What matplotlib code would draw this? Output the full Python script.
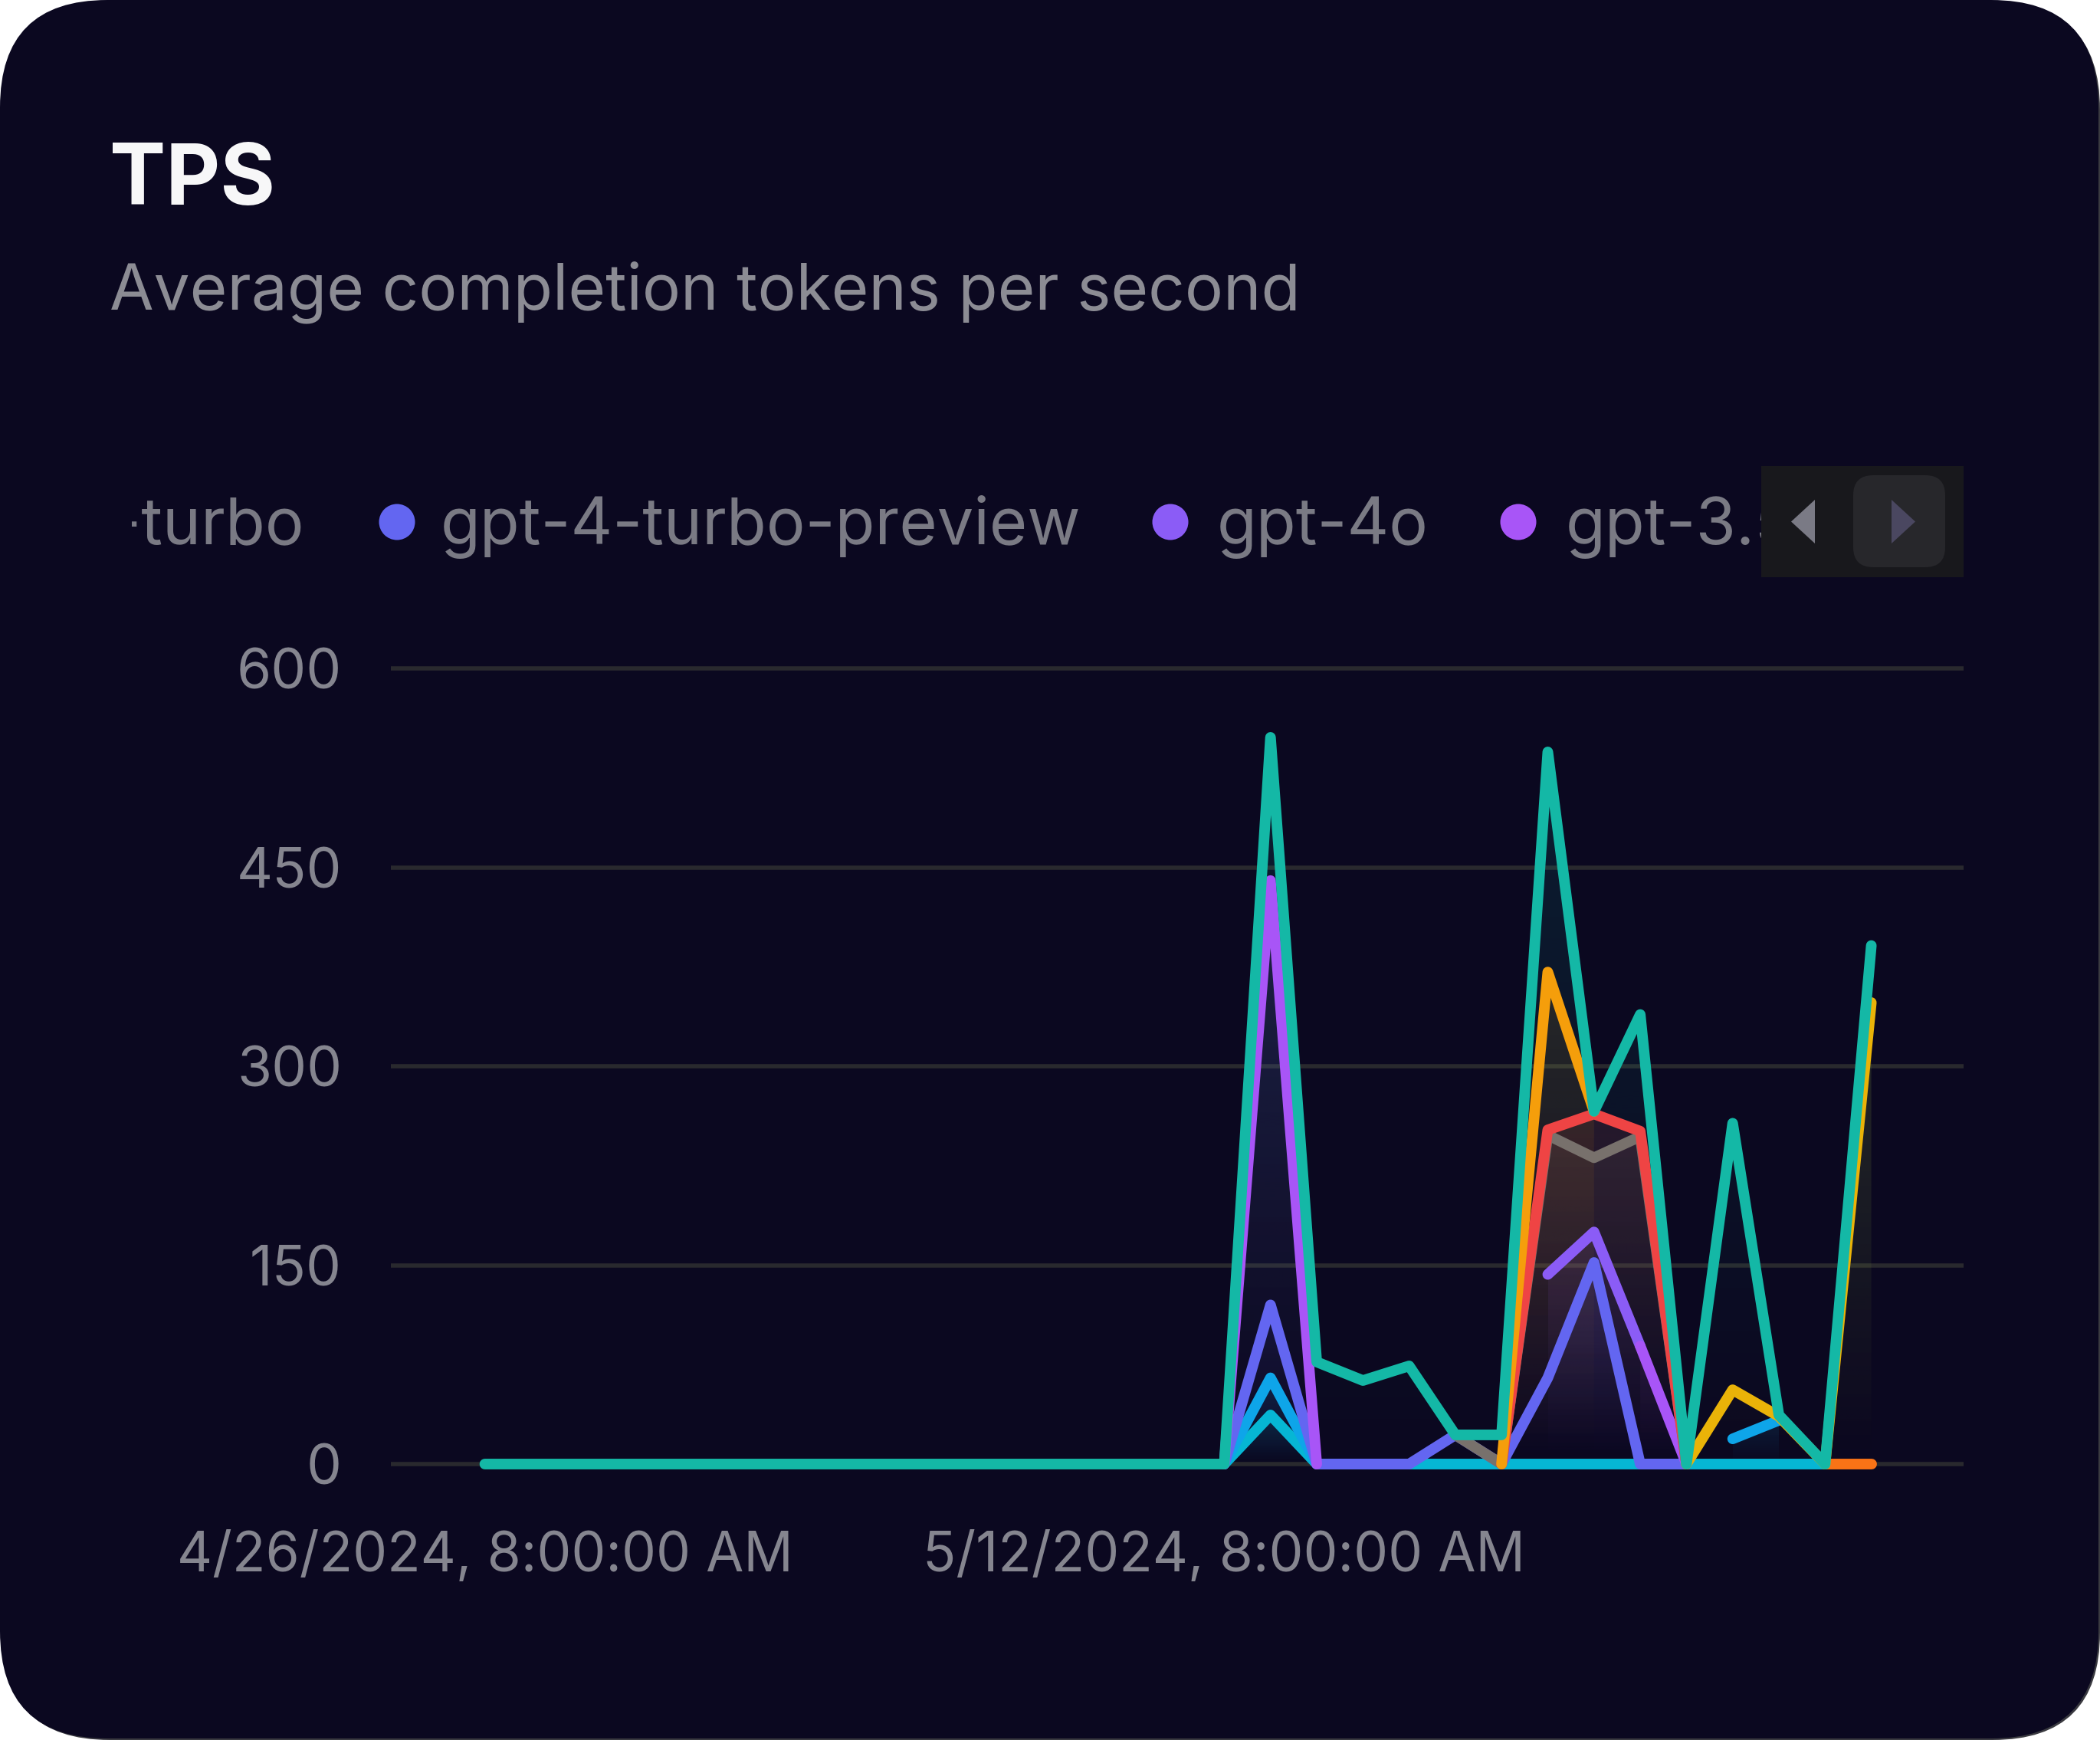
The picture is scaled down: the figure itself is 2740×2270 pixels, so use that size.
import numpy as np
import pandas as pd
import matplotlib
matplotlib.use("Agg")
import matplotlib.pyplot as plt
from matplotlib.patches import FancyBboxPatch, Polygon, Circle, Rectangle
from matplotlib.colors import to_rgb

plt.rcParams['font.family'] = ['Inter', 'DejaVu Sans']

# ---------------- data ----------------
dates = pd.date_range("2024-04-26 08:00", periods=31, freq="D")
date_labels = [f"{d.month}/{d.day}/{d.year}, 8:00:00 AM" for d in dates]
xtick_idx = [0, 16]
yticks = [0, 150, 300, 450, 600]

N = None
teal_vals = [0]*17 + [548, 77, 63, 74, 22, 22, 537, 266, 339, 0, 257, 37, 0, 391]
cyan_vals = [N]*16 + [0, 37, 0, 0, 0, 0, 0, 0, 0, 0, 0, 0, 0, 0, N]
sky_vals = [N]*16 + [0, 65, 0] + [N]*8 + [19, 33] + [N]*2
indigo_vals = [N]*16 + [0, 120, 0, 0, 0, 22, 0, 65, 152, 0, 0] + [N]*4
violet_vals = [N]*23 + [143, 175, 89] + [N]*5
purple_vals = [N]*16 + [0, 440, 0] + [N]*6 + [89, 0] + [N]*4
stone_vals = [N]*21 + [22, 0, 248, 231, 247, 0] + [N]*4
red_vals = [N]*22 + [0, 252, 264, 251, 0] + [N]*4
amber_vals = [N]*22 + [0, 371, 266] + [N]*6
yellow_vals = [N]*26 + [0, 56, 36, 0, 348]
orange_vals = [N]*29 + [0, 0]

# drawing order bottom -> top
series = [
    ("orange", orange_vals, "#f97316"),
    ("cyan", cyan_vals, "#06b6d4"),
    ("sky", sky_vals, "#0ea5e9"),
    ("gpt-4-turbo-preview", indigo_vals, "#6366f1"),
    ("gpt-4o", violet_vals, "#8b5cf6"),
    ("gpt-3.5-turbo", purple_vals, "#a855f7"),
    ("stone", stone_vals, "#78716c"),
    ("red", red_vals, "#ef4444"),
    ("amber", amber_vals, "#f59e0b"),
    ("yellow", yellow_vals, "#eab308"),
    ("teal", teal_vals, "#14b8a6"),
]

legend_labels = ["gpt-4-turbo", "gpt-4-turbo-preview", "gpt-4o", "gpt-3.5-turbo"]
legend_colors = [None, "#6366f1", "#8b5cf6", "#a855f7"]

BG = "#0b0820"
W, H = 2740, 2270

fig = plt.figure(figsize=(W/100, H/100), dpi=100, facecolor="white")

# card background
bg = fig.add_axes([0, 0, 1, 1], zorder=0)
bg.set_xlim(0, W); bg.set_ylim(H, 0); bg.axis("off")
bg.add_patch(FancyBboxPatch((3, 3), W-3, H-3, boxstyle="round,pad=0,rounding_size=140",
                            fc="#3a3a40", ec="none"))
bg.add_patch(FancyBboxPatch((0, 0), W-2, H-2, boxstyle="round,pad=0,rounding_size=140",
                            fc=BG, ec="none"))
bg.text(143, 267, "TPS", fontsize=79, fontweight="bold", color="#f7f7f8", va="baseline", ha="left")
bg.text(143, 403, "Average completion tokens per second", fontsize=60.2, color="#8c8c94",
        va="baseline", ha="left")

# chart axes
x0px, x1px, ytop, ybot = 510, 2562, 840, 1950
ax = fig.add_axes([x0px/W, 1-ybot/H, (x1px-x0px)/W, (ybot-ytop)/H], zorder=2)
ax.set_facecolor("none")
xpx0, xstep = 632.6, 60.3
xlim = ((x0px-xpx0)/xstep, (x1px-xpx0)/xstep)
ypx0, yscale = 1910, 1.73
ylim = (-(ybot-ypx0)/yscale, 600 + (872-ytop)/yscale)

x = np.arange(len(dates))

def grad_fill(ax, xs, ys, color, z):
    ys = np.array([np.nan if v is None else v for v in ys], float)
    valid = ~np.isnan(ys)
    idx = np.where(valid)[0]
    if len(idx) == 0:
        return
    groups = np.split(idx, np.where(np.diff(idx) != 1)[0] + 1)
    rgb = to_rgb(color)
    for g in groups:
        if len(g) < 2:
            continue
        gx, gy = xs[g], ys[g]
        top = gy.max()
        if top <= 0:
            continue
        verts = [(gx[0], 0)] + list(zip(gx, gy)) + [(gx[-1], 0)]
        poly = Polygon(verts, closed=True, fc="none", ec="none")
        ax.add_patch(poly)
        grad = np.zeros((200, 1, 4))
        grad[..., 0], grad[..., 1], grad[..., 2] = rgb
        grad[:, 0, 3] = np.linspace(0.0, 0.13, 200)
        im = ax.imshow(grad, extent=[gx[0], gx[-1], 0, top], origin="lower",
                       aspect="auto", zorder=z, interpolation="bilinear")
        im.set_clip_path(poly)

for k, (name, vals, col) in enumerate(series):
    grad_fill(ax, x, vals, col, 1 + k*0.01)

for k, (name, vals, col) in enumerate(series):
    yv = np.array([np.nan if v is None else v for v in vals], float)
    ax.plot(x, yv, color=col, lw=10, solid_capstyle="round", solid_joinstyle="round",
            zorder=3 + k*0.01, label=name)

ax.set_xlim(*xlim)
ax.set_ylim(*ylim)
ax.set_aspect("auto")
for s in ax.spines.values():
    s.set_visible(False)
ax.set_yticks(yticks)
ax.set_yticklabels([str(v) for v in yticks])
ax.set_xticks(xtick_idx)
ax.set_xticklabels([date_labels[i] for i in xtick_idx])
ax.tick_params(axis="y", length=0, pad=46, labelsize=52.5, labelcolor="#85858f")
ax.tick_params(axis="x", length=0, pad=34, labelsize=51.4, labelcolor="#85858f")
ax.yaxis.grid(True, color="#29292e", lw=4)
ax.xaxis.grid(False)
ax.set_axisbelow(True)

# legend strip (scrolled, clipped)
lg = fig.add_axes([172/W, 1-770/H, (2562-172)/W, 180/H], zorder=4)
lg.set_xlim(172, 2562); lg.set_ylim(770, 590); lg.axis("off")
LEG_C = "#7a7a84"
lg.text(397, 710, legend_labels[0], fontsize=61, color=LEG_C, ha="right", va="baseline", clip_on=True)
dot_x = [518, 1527, 1981]
txt_x = [575, 1588, 2043]
for dx, tx, lab, col in zip(dot_x, txt_x, legend_labels[1:], legend_colors[1:]):
    lg.add_patch(Circle((dx, 681), 23.5, fc=col, ec="none", zorder=2))
    lg.text(tx, 710, lab, fontsize=61, color=LEG_C, ha="left", va="baseline", clip_on=True, zorder=2)
# scroll buttons
lg.add_patch(Rectangle((2298, 608), 264, 145, fc="#18181c", ec="none", zorder=5))
lg.add_patch(FancyBboxPatch((2418, 620), 120, 120, boxstyle="round,pad=0,rounding_size=26",
                            fc="#27272b", ec="none", zorder=6))
lg.add_patch(Polygon([(2368, 652), (2368, 709), (2337, 680.5)], closed=True,
                     fc="#7a7a85", ec="none", zorder=7))
lg.add_patch(Polygon([(2468, 652), (2468, 709), (2499, 680.5)], closed=True,
                     fc="#4a4760", ec="none", zorder=7))

fig.savefig("out.png", dpi=100, facecolor="white")
